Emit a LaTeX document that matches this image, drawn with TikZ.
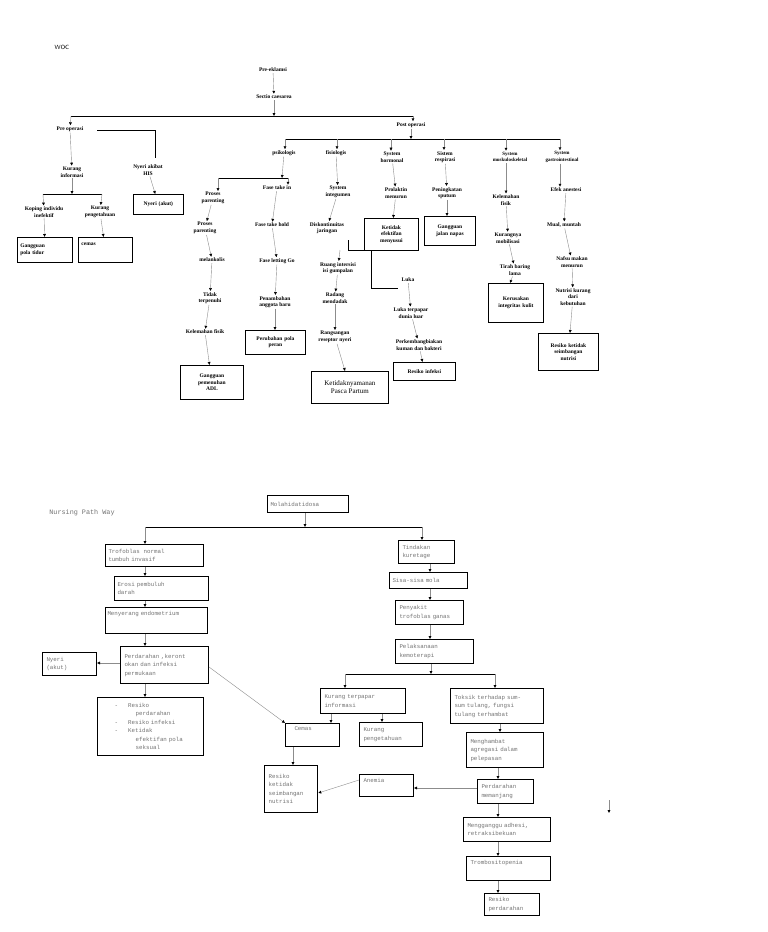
\documentclass[tikz,border=0pt]{standalone}
\usepackage{fontspec}
\setmainfont{Liberation Serif}
\setmonofont{Liberation Mono}
\usetikzlibrary{arrows.meta}
\begin{document}
\begin{tikzpicture}[x=1pt,y=-1pt,
  t/.style={font=\fontsize{5.5}{6.5}\selectfont\bfseries, align=center, inner sep=1pt},
  tb/.style={t, draw=black, line width=0.8pt, minimum width=#1, minimum height=22pt, anchor=north west, text width=#1-6pt},
  m/.style={font=\ttfamily\fontsize{5.8}{8.5}\selectfont, text=black!55, align=left, inner sep=0pt},
  mb/.style={draw=black, line width=1pt, anchor=north west},
  ar/.style={draw=black!45, line width=0.4pt, -{Latex[black,length=3pt,width=3pt]}},
  ln/.style={draw=black, line width=0.7pt},
  gl/.style={draw=black!45, line width=0.4pt}]
\useasboundingbox[fill=white] (0,0) rectangle (768,932);
% ---------------- WOC ----------------
\node[font=\sffamily\fontsize{6}{7}\selectfont] (woc) at (62,47) {WOC};
\node[t] (pe) at (273,70) {Pre-eklamsi};
\node[t] (sc) at (274,97) {Sectio caesarea};
\draw[ar] (pe) -- (sc);
\coordinate (sj) at (274,116);
\draw[ar] (sc) -- (sj);
\coordinate (sl) at (71,116); \coordinate (sr) at (413,116);
\draw[ln] (sl) -- (sr);
\node[t] (pre) at (70,129) {Pre operasi};
\node[t] (post) at (411,125) {Post operasi};
\draw[ar] (sl) -- (pre);
\draw[ar] (sr) -- (post.north -| sr);
\coordinate (pc0) at (97,130);
\coordinate (pc) at (155,130);
\coordinate (pc1) at (155,158);
\node[t] (nh) at (148,170) {Nyeri akibat\\HIS};
\draw[ln] (pc0) -- (pc) -- (pc1);
\node[t] (ki) at (72,172) {Kurang\\informasi};
\draw[ar] (pre) -- (ki);
\coordinate (kj) at (72,194);
\draw[ar] (ki) -- (kj);
\coordinate (kl) at (43,194); \coordinate (kr) at (102,194);
\draw[ln] (kl) -- (kr);
\node[t] (kop) at (44,212) {Koping individu\\inefektif};
\node[t] (kp) at (100,212) {Kurang\\pengetahuan};
\draw[ar] (kl) -- (kop);
\draw[ar] (kr) -- (kp);
\node[tb=55pt, minimum height=25pt, align=left] (gpt) at (17,237) {Gangguan\\pola tidur};
\node[tb=54pt, minimum height=25pt, align=left, text depth=12pt] (cem) at (78,237) {cemas};
\draw[ar] (kop) -- (gpt);
\draw[ar] (kp) -- (cem);
\node[tb=50pt, minimum height=20pt] (na) at (133,194) {Nyeri (akut)};
\draw[ar] (nh) -- (na);
% post operasi branches
\coordinate (pl) at (285,139); \coordinate (pr) at (560,139);
\draw[ln] (pl) -- (pr);
\node[t] (psi) at (284,153) {psikologis};
\node[t] (fis) at (336,153) {fisiologis};
\node[t] (sho) at (392,157) {System\\hormonal};
\node[t] (sre) at (445,157) {Sistem\\respirasi};
\node[t, font=\fontsize{5}{6.5}\selectfont\bfseries] (smu) at (510,157) {System\\muskuloskeletal};
\node[t, font=\fontsize{5}{6.5}\selectfont\bfseries] (sga) at (562,157) {System\\gastrointestinal};
\draw[ar] (post) -- (411,139);
\foreach \n/\x in {psi/285,fis/337,sho/391,sre/444,smu/506,sga/560}{\draw[ar] (\x,139) -- (\n.north -| \x,0);}
% psikologis
\draw[ar] (psi) -- (282,178);
\draw[ln] (218,178) -- (288,178);
\node[t] (pp1) at (213,198) {Proses\\parenting};
\node[t] (fti) at (277,188) {Fase take in};
\draw[ar] (218,178) -- (pp1.north -| 218,0);
\draw[ar] (288,178) -- (fti.north -| 288,0);
\node[t] (pp2) at (205,228) {Proses\\parenting};
\node[t] (mel) at (212,260) {melankolis};
\node[t] (tt) at (210,298) {Tidak\\terpenuhi};
\node[t] (kf1) at (205,332) {Kelemahan fisik};
\node[tb=63pt, minimum height=34pt] (adl) at (180,365) {Gangguan\\pemenuhan\\ADL};
\draw[ar] (pp1) -- (pp2);
\draw[ar] (pp2) -- (mel);
\draw[ar] (mel) -- (tt);
\draw[ar] (tt) -- (kf1);
\draw[ar] (kf1) -- (adl);
\node[t] (fth) at (272,225) {Fase take hold};
\node[t] (flg) at (277,261) {Fase letting Go};
\node[t] (paa) at (275,302) {Penambahan\\anggota baru};
\node[tb=60pt, minimum height=24pt] (ppp) at (245,330) {Perubahan pola\\peran};
\draw[ar] (fti) -- (fth);
\draw[ar] (fth) -- (flg);
\draw[ar] (flg) -- (paa);
\draw[ar] (paa) -- (ppp.north -| paa);
% fisiologis
\node[t] (sin) at (338,192) {System\\integumen};
\node[t] (dis) at (327,228) {Diskontinuitas\\jaringan};
\node[t] (rui) at (338,268) {Ruang intersisi\\isi gumpalan};
\node[t] (rad) at (335,298) {Radang\\mendadak};
\node[t] (rrn) at (335,337) {Rangsangan\\reseptor nyeri};
\node[draw, line width=0.8pt, font=\fontsize{7}{8}\selectfont, align=center, minimum width=77pt, minimum height=32pt, anchor=north west] (kpp) at (311,371) {Ketidaknyamanan\\Pasca Partum};
\draw[ar] (fis) -- (sin);
\draw[ar] (sin) -- (dis);
\coordinate (rs) at (340,250);
\draw[ar] (rs) -- (rui);
\draw[ar] (rui) -- (rad);
\draw[ar] (rad) -- (rrn);
\draw[ar] (rrn) -- (kpp);
\node[t] (prl) at (396,193) {Prolaktin\\menurun};
\node[tb=54pt, minimum height=32pt] (kem) at (364,218) {Ketidak\\efektifan\\menyusui};
\draw[ar] (sho) -- (prl);
\draw[ar] (prl) -- (kem);
\coordinate (b1) at (348,240); \coordinate (b2) at (348,250); \coordinate (b3) at (371,250);
\draw[ln] (b1) -- (b2) -- (b3);
\node[t] (luka) at (408,280) {Luka};
\coordinate (b4) at (371,288); \coordinate (b5) at (398,288);
\draw[ln] (b3) -- (b4) -- (b5);
\node[t] (ltd) at (411,313) {Luka terpapar\\dunia luar};
\node[t] (pkb) at (419,345) {Perkembangbiakan\\kuman dan bakteri};
\node[tb=62pt, minimum height=18pt] (rin) at (393,362) {Resiko infeksi};
\draw[ar] (luka) -- (ltd);
\draw[ar] (ltd) -- (pkb);
\draw[ar] (pkb) -- (rin);
\node[t] (pks) at (447,193) {Peningkatan\\sputum};
\node[tb=51pt, minimum height=29pt] (gjn) at (424,216) {Gangguan\\jalan napas};
\draw[ar] (sre) -- (pks);
\draw[ar] (pks) -- (gjn.north -| pks);
% muskuloskeletal
\node[t] (kf2) at (506,200) {Kelemahan\\fisik};
\node[t] (kmo) at (508,238) {Kurangnya\\mobilisasi};
\node[t] (tbl) at (515,270) {Tirah baring\\lama};
\node[tb=55pt, minimum height=39pt] (kik) at (488,283) {Kerusakan\\integritas kulit};
\draw[ar] (smu.south -| 506,0) -- (kf2);
\draw[ar] (kf2) -- (kmo);
\draw[ar] (kmo) -- (tbl);
\draw[ar] (tbl) -- (kik.north -| 510,0);
% gastro
\node[t] (efa) at (566,190) {Efek anestesi};
\node[t] (mm) at (564,225) {Mual, muntah};
\node[t] (nmm) at (572,262) {Nafsu makan\\menurun};
\node[t] (nkk) at (573,297) {Nutrisi kurang\\dari\\kebutuhan};
\node[tb=60pt, minimum height=37pt] (rkn) at (538,333) {Resiko ketidak\\seimbangan\\nutrisi};
\draw[ar] (sga.south -| 560,0) -- (efa.north -| 560,0);
\draw[ar] (efa) -- (mm);
\draw[ar] (mm) -- (nmm);
\draw[ar] (nmm) -- (nkk);
\draw[ar] (nkk) -- (rkn);
% ---------------- Nursing Path Way ----------------
\node[m, font=\ttfamily\fontsize{6.8}{8}\selectfont] (npw) at (82,513) {Nursing Path Way};
\node[m, mb, minimum width=81pt, minimum height=17pt, inner sep=2pt, anchor=north west, text width=75pt] (mol) at (267,495) {Molahidatidosa};
\coordinate (mj) at (305,527);
\draw[ar] (mol.south -| mj) -- (mj);
\coordinate (ml) at (145,527); \coordinate (mr) at (422,527);
\draw[ln] (ml) -- (mr);
\node[m, mb, minimum width=98pt, minimum height=22pt, inner sep=2pt, text width=92pt] (tro) at (105,544) {Trofoblas~ normal\\tumbuh invasif};
\node[m, mb, minimum width=94pt, minimum height=24pt, inner sep=2pt, text width=88pt] (ero) at (114,576) {Erosi pembuluh\\darah};
\node[m, mb, minimum width=102pt, minimum height=26pt, inner sep=1pt, text width=98pt, text depth=14pt] (men) at (105,607) {Menyerang endometrium};
\node[m, mb, minimum width=88pt, minimum height=37pt, inner sep=3pt, text width=80pt] (per) at (120,646) {Perdarahan ,keront\\okan dan infeksi\\permukaan};
\node[m, mb, minimum width=54pt, minimum height=23pt, inner sep=3pt, text width=46pt] (nye) at (42,652) {Nyeri\\(akut)};
\node[m, mb, line width=1.3pt, minimum width=106pt, minimum height=58pt, inner sep=2pt, text width=100pt] (rl) at (97,697) {\hspace*{14pt}-\hspace{10pt}Resiko\\\hspace*{35pt}perdarahan\\\hspace*{14pt}-\hspace{10pt}Resiko infeksi\\\hspace*{14pt}-\hspace{10pt}Ketidak\\\hspace*{35pt}efektifan pola\\\hspace*{35pt}seksual};
\draw[ar] (ml) -- (tro.north -| ml);
\draw[ar] (tro.south -| ml) -- (ero.north -| ml);
\draw[ar] (ero.south -| ml) -- (men.north -| ml);
\draw[ar] (men.south -| ml) -- (per.north -| ml);
\coordinate (ny) at (0,663);
\draw[ar] (per.west |- ny) -- (nye.east |- ny);
\draw[ar] (per.south -| ml) -- (rl.north -| ml);
\node[m, mb, minimum width=56pt, minimum height=23pt, inner sep=3pt, text width=48pt] (tin) at (398,540) {Tindakan\\kuretage};
\node[m, mb, minimum width=78pt, minimum height=16pt, inner sep=2pt, text width=72pt] (sis) at (389,572) {Sisa-sisa mola};
\node[m, mb, minimum width=68pt, minimum height=24pt, inner sep=3pt, text width=60pt] (pen) at (395,600) {Penyakit\\trofoblas ganas};
\node[m, mb, minimum width=78pt, minimum height=24pt, inner sep=3pt, text width=70pt] (pel) at (395,639) {Pelaksanaan\\kemoterapi};
\coordinate (cx) at (430,0);
\draw[ar] (mr) -- (tin.north -| mr);
\draw[ar] (tin.south -| cx) -- (sis.north -| cx);
\draw[ar] (sis.south -| cx) -- (pen.north -| cx);
\draw[ar] (pen.south -| cx) -- (pel.north -| cx);
\coordinate (kj2) at (431,674);
\draw[ar] (pel.south -| kj2) -- (kj2);
\coordinate (kl2) at (345,674); \coordinate (kr2) at (495,674);
\draw[ln] (kl2) -- (kr2);
\node[m, mb, minimum width=85pt, minimum height=25pt, inner sep=3pt, text width=77pt] (ktp) at (320,688) {Kurang terpapar\\informasi};
\node[m, mb, minimum width=93pt, minimum height=35pt, inner sep=3pt, text width=85pt] (tok) at (450,688) {Toksik terhadap sum-\\sum tulang, fungsi\\tulang terhambat};
\draw[ar] (kl2) -- (ktp.north -| kl2);
\draw[ar] (kr2) -- (tok.north -| kr2);
\node[m, mb, minimum width=54pt, minimum height=23pt, inner sep=3pt, text width=44pt, text depth=12pt] (cms) at (285,723) {\hspace*{4pt}Cemas};
\node[m, mb, minimum width=63pt, minimum height=24pt, inner sep=3pt, text width=55pt] (kpg) at (359,722) {Kurang\\pengetahuan};
\coordinate (c1) at (331,0); \coordinate (c2) at (382,0);
\draw[ar] (ktp.south -| c1) -- (cms.north -| c1);
\draw[ar] (ktp.south -| c2) -- (kpg.north -| c2);
\coordinate (py) at (0,667);
\draw[ar] (per.east |- py) -- (cms.north west);
\node[m, mb, minimum width=77pt, minimum height=35pt, inner sep=3pt, text width=69pt] (mgh) at (466,732) {Menghambat\\agregasi dalam\\pelepasan};
\coordinate (c3) at (500,0);
\draw[ar] (tok.south -| c3) -- (mgh.north -| c3);
\node[m, mb, line width=1.3pt, minimum width=53pt, minimum height=47pt, inner sep=3pt, text width=45pt] (rkt) at (264,765) {Resiko\\ketidak\\seimbangan\\nutrisi};
\coordinate (c4) at (293,0);
\draw[ar] (cms.south -| c4) -- (rkt.north -| c4);
\node[m, mb, minimum width=54pt, minimum height=22pt, inner sep=3pt, text width=46pt, text depth=10pt] (ane) at (359,774) {Anemia};
\node[m, mb, minimum width=56pt, minimum height=24pt, inner sep=3pt, text width=48pt] (pmj) at (477,779) {Perdarahan\\memanjang};
\coordinate (c5) at (498,0);
\draw[ar] (mgh.south -| c5) -- (pmj.north -| c5);
\coordinate (ay) at (0,788); \coordinate (ay1) at (0,780); \coordinate (ay2) at (0,793);
\draw[ar] (pmj.west |- ay) -- (ane.east |- ay);
\draw[ar] (ane.west |- ay1) -- (rkt.east |- ay2);
\node[m, mb, minimum width=87pt, minimum height=24pt, inner sep=3pt, text width=79pt] (mga) at (463,817) {Mengganggu adhesi,\\retraksibekuan};
\node[m, mb, minimum width=84pt, minimum height=24pt, inner sep=3pt, text width=76pt, text depth=12pt] (trm) at (466,856) {Trombositopenia};
\node[m, mb, minimum width=55pt, minimum height=22pt, inner sep=3pt, text width=47pt] (rpd) at (484,893) {Resiko\\perdarahan};
\draw[ar] (pmj.south -| c5) -- (mga.north -| c5);
\draw[ar] (mga.south -| c5) -- (trm.north -| c5);
\draw[ar] (trm.south -| c5) -- (rpd.north -| c5);
\coordinate (st1) at (609,800); \coordinate (st2) at (609,813);
\draw[ar] (st1) -- (st2);
\end{tikzpicture}
\end{document}
